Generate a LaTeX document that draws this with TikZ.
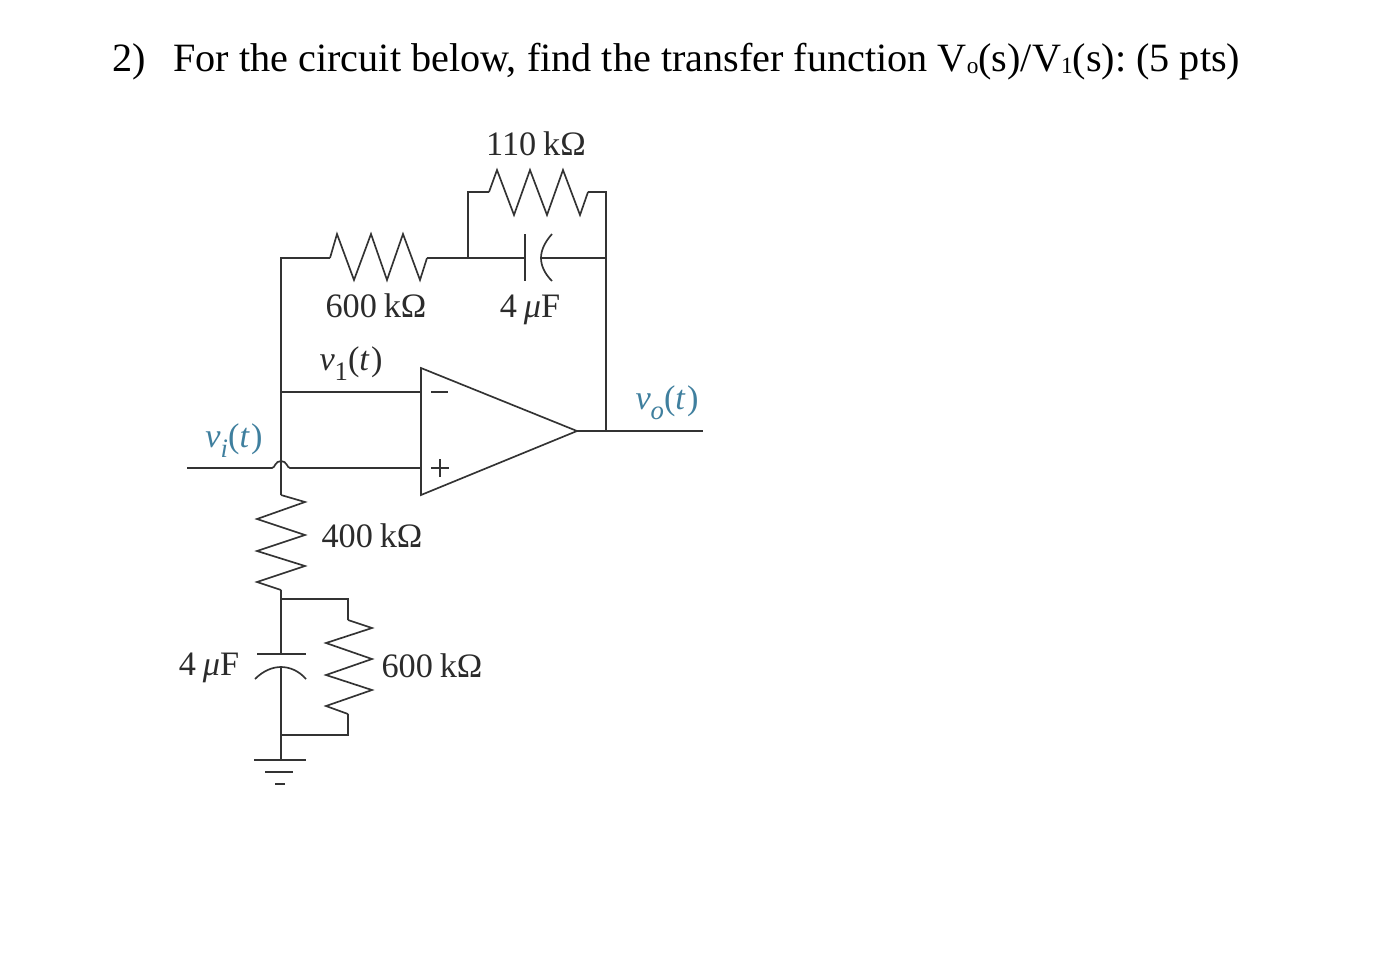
\documentclass[tikz,border=0pt]{standalone}
\usepackage{fontspec}
\setmainfont{Liberation Serif}
\definecolor{wirec}{HTML}{333333}
\definecolor{labc}{HTML}{2B2B2B}
\definecolor{tealc}{HTML}{3F7F9E}
\newcommand{\lab}[1]{{\fontsize{25.7pt}{28pt}\selectfont #1}}
\newcommand{\kohm}{\hspace{0.2em}kΩ}
\newcommand{\svo}[1]{\textit{v}\raisebox{-0.3em}{\fontsize{20pt}{20pt}\selectfont #1}(\textit{t}\kern0.04em)}
\tikzset{
  wire/.style={draw=wirec,line width=1.25pt,line join=miter,line cap=butt},
  lbl/.style={inner sep=0pt,anchor=base,text=labc},
  vlbl/.style={inner sep=0pt,anchor=base,text=tealc},
  title/.style={inner sep=0pt,anchor=base west,text=black}
}
\begin{document}
\begin{tikzpicture}[x=0.75pt,y=-0.75pt]
\useasboundingbox (0,0) rectangle (1388,958);
\fill[white] (0,0) rectangle (1388,958);

% title
\node[title] (ttl) at (112,71) {\frenchspacing\fontsize{30.15pt}{32pt}\selectfont 2)\hspace{0.69em}For the circuit below, find the transfer function V\raisebox{-0.05em}{\fontsize{17.5pt}{18pt}\selectfont o}(s)/V\raisebox{-0.05em}{\fontsize{17.5pt}{18pt}\selectfont 1}(s): (5 pts)};

% named points
\coordinate (tl) at (281,258);
\coordinate (r1a) at (330,258);
\coordinate (r1b) at (427,258);
\coordinate (jl) at (468,258);
\coordinate (c1a) at (525,258);
\coordinate (c1b) at (541,258);
\coordinate (jr) at (606,258);
\coordinate (r2lc) at (468,192);
\coordinate (r2a) at (489,192);
\coordinate (r2b) at (588,192);
\coordinate (r2rc) at (606,192);
\coordinate (out) at (606,431);
\coordinate (outend) at (703,431);
\coordinate (minusL) at (281,392);
\coordinate (oa1) at (421,368);
\coordinate (oa2) at (421,495);
\coordinate (oa3) at (577,431);
\coordinate (minusI) at (421,392);
\coordinate (plusI) at (421,468);
\coordinate (inS) at (187,468);
\coordinate (hopa) at (272,468);
\coordinate (hopb) at (290,468);
\coordinate (r3a) at (281,495);
\coordinate (r3b) at (281,590);
\coordinate (jb1) at (281,599);
\coordinate (jb1r) at (348,599);
\coordinate (r4a) at (348,620);
\coordinate (r4b) at (348,714);
\coordinate (jb2r) at (348,735);
\coordinate (jb2) at (281,735);
\coordinate (c2a) at (281,654);
\coordinate (c2b) at (281,667);
\coordinate (gnd) at (281,760);

% wires
\draw[wire] (r3a) -- (tl) -- (r1a);
\draw[wire] (r1b) -- (jl) -- (c1a);
\draw[wire] (c1b) -- (jr);
\draw[wire] (jl) -- (r2lc) -- (r2a);
\draw[wire] (r2b) -- (r2rc) -- (out);
\draw[wire] (oa3) -- (outend);
\draw[wire] (minusL) -- (minusI);
\draw[wire] (inS) -- (hopa) .. controls (275,468) and (275,461) .. (281,461) .. controls (287,461) and (287,468) .. (hopb) -- (plusI);
\draw[wire] (r3b) -- (c2a);
\draw[wire] (jb1) -- (jb1r) -- (r4a);
\draw[wire] (r4b) -- (jb2r) -- (jb2);
\draw[wire] (c2b) -- (gnd);

% resistors
\draw[wire] (r1a) -- (337,234) -- (354,280) -- (371,234) -- (387,280) -- (403,234) -- (420,280) -- (r1b);
\draw[wire] (r2a) -- (497,170) -- (514,215) -- (530,170) -- (547,215) -- (563,170) -- (580,215) -- (r2b);
\draw[wire] (r3a) -- (305,502) -- (257,519) -- (305,535) -- (257,551) -- (305,566) -- (257,582) -- (r3b);
\draw[wire] (r4a) -- (372,628) -- (326,643) -- (372,659) -- (326,675) -- (372,690) -- (326,706) -- (r4b);

% capacitors
\draw[wire] (525,234) -- (525,281);
\draw[wire] (552,234) .. controls (544,243) and (541,251) .. (c1b) .. controls (541,265) and (544,273) .. (552,281);
\draw[wire] (257,654) -- (306,654);
\draw[wire] (255,679) .. controls (263,671) and (272,667) .. (c2b) .. controls (290,667) and (299,671) .. (306,679);

% ground
\draw[wire] (254,760) -- (306,760);
\draw[wire] (265,772) -- (293,772);
\draw[wire] (275,784) -- (285,784);

% op amp
\draw[wire] (oa1) -- (oa3) -- (oa2) -- cycle;
\draw[wire] (431,392) -- (448,392);
\draw[wire] (431,468) -- (449,468);
\draw[wire] (440,459) -- (440,477);

% labels
\node[lbl] (l110) at (536,155) {\lab{110\kohm}};
\node[lbl] (l600a) at (376,317) {\lab{600\kohm}};
\node[lbl] (l4a) at (530,317) {\lab{4\hspace{0.2em}\textit{μ}F}};
\node[lbl] (lv1) at (351,370) {\lab{\svo{1}}};
\node[vlbl] (lvo) at (667,409) {\lab{\svo{\textit{o}}}};
\node[vlbl] (lvi) at (234,447) {\lab{\svo{\textit{i}}}};
\node[lbl] (l400) at (372,547) {\lab{400\kohm}};
\node[lbl] (l600b) at (432,677) {\lab{600\kohm}};
\node[lbl] (l4b) at (209,675) {\lab{4\hspace{0.2em}\textit{μ}F}};
\end{tikzpicture}
\end{document}
